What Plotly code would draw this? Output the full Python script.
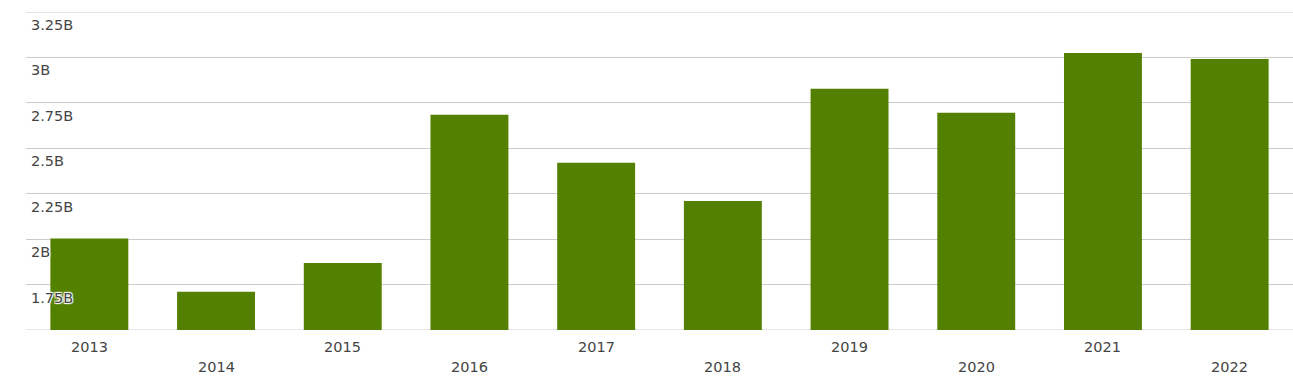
import plotly.graph_objects as go

years = ["2013", "2014", "2015", "2016", "2017", "2018", "2019", "2020", "2021", "2022"]
values = [2.003e9, 1.711e9, 1.869e9, 2.684e9, 2.420e9, 2.210e9, 2.827e9, 2.695e9, 3.025e9, 2.992e9]
y_tickvals = [1.5e9, 1.75e9, 2.0e9, 2.25e9, 2.5e9, 2.75e9, 3.0e9, 3.25e9]
y_ticktext = ["1.5B", "1.75B", "2B", "2.25B", "2.5B", "2.75B", "3B", "3.25B"]

FONT = "DejaVu Sans"
TEXT_COLOR = "#444444"
GRID = "#cccccc"
FS = 14.5

fig = go.Figure()
fig.add_trace(go.Bar(x=years, y=values, marker=dict(color="#548000", line=dict(width=0)),
                     hoverinfo="skip"))

annotations = []
for v, t in zip(y_tickvals, y_ticktext):
    if v == y_tickvals[0]:
        continue
    annotations.append(dict(
        x=0, xref="paper", y=v, yref="y", text=t, showarrow=False,
        xanchor="left", yanchor="middle", xshift=3, yshift=-13,
        font=dict(family=FONT, size=FS, color=TEXT_COLOR,
                  shadow="1px 1px 1px white, -1px -1px 1px white, 1px -1px 1px white, -1px 1px 1px white"),
    ))
for i, yr in enumerate(years):
    annotations.append(dict(
        x=i, xref="x", y=0, yref="paper", text=yr, showarrow=False,
        xanchor="center", yanchor="middle", yshift=-17 if i % 2 == 0 else -37,
        font=dict(family=FONT, size=FS, color=TEXT_COLOR),
    ))

# edge gridlines (plotly omits gridlines on the range ends)
shapes = [
    dict(type="line", xref="paper", x0=0, x1=1, yref="y", y0=y_tickvals[0], y1=y_tickvals[0],
         line=dict(color=GRID, width=1), layer="below"),
    dict(type="line", xref="paper", x0=0, x1=1, yref="y", y0=y_tickvals[-1], y1=y_tickvals[-1],
         line=dict(color=GRID, width=1), layer="below"),
]

fig.update_layout(
    width=1293, height=384,
    margin=dict(l=26, r=0, t=12, b=54),
    paper_bgcolor="white", plot_bgcolor="white",
    bargap=0.385,
    showlegend=False,
    annotations=annotations,
    shapes=shapes,
    font=dict(family=FONT, size=FS, color=TEXT_COLOR),
)
fig.update_xaxes(type="category", range=[-0.5, len(years) - 0.5], showticklabels=False,
                 showgrid=False, showline=False, zeroline=False, ticks="")
fig.update_yaxes(range=[1.5e9, 3.25e9], tickvals=y_tickvals, showticklabels=False,
                 showgrid=True, gridcolor=GRID, gridwidth=1, zeroline=False,
                 showline=False, ticks="")

fig.write_html("out.html")
